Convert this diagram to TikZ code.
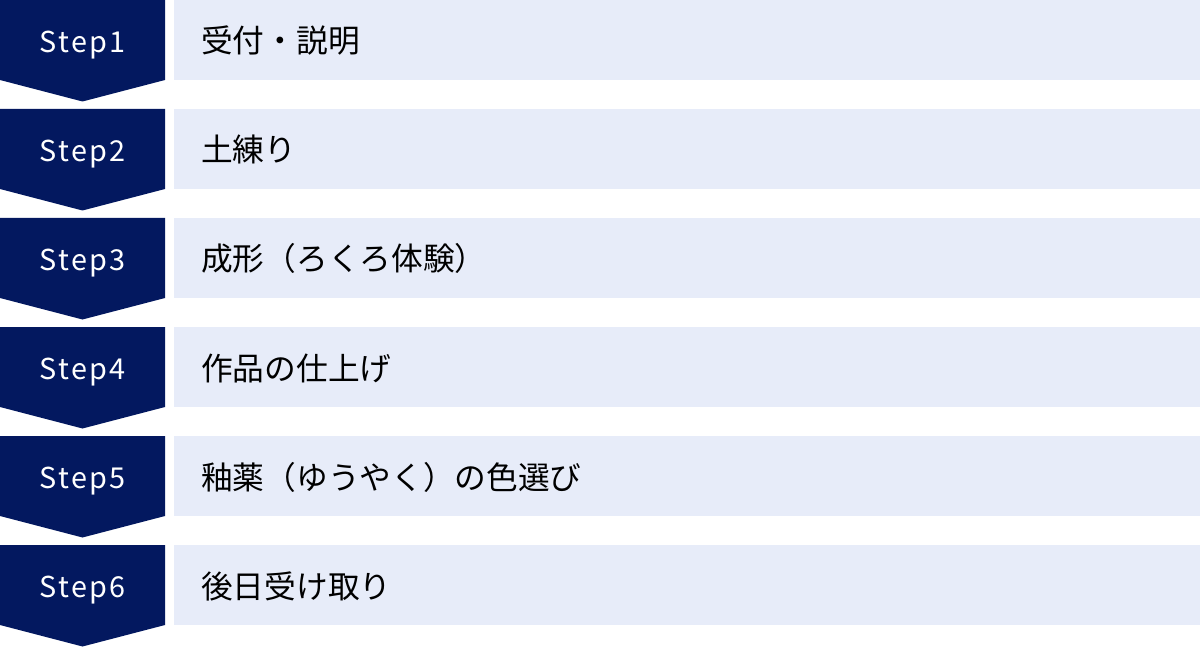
\documentclass[tikz,border=0pt]{standalone}
\usepackage{fontspec}
\setmainfont{Noto Sans CJK JP}
\newfontfamily\stepfont[LetterSpace=8]{Noto Sans CJK JP}
\definecolor{navy}{HTML}{03185F}
\definecolor{pale}{HTML}{E7ECF9}
\tikzset{
  chevron/.style={fill=navy},
  steplabel/.style={text=white,font=\stepfont\fontsize{28.8}{34}\selectfont,inner sep=0pt,anchor=base},
  palebox/.style={fill=pale,draw=none,minimum width=1026pt,minimum height=80pt,inner sep=0pt,anchor=north west},
  itemlabel/.style={text=black,font=\fontsize{31.7}{38}\selectfont,inner sep=0pt,anchor=base west}
}
\begin{document}
\begin{tikzpicture}[x=1pt,y=-1pt]
\useasboundingbox (0,0) rectangle (1200,647);
\foreach \i/\txt in {1/受付・説明,2/土練り,3/成形（ろくろ体験）,4/作品の仕上げ,5/釉薬（ゆうやく）の色選び,6/後日受け取り}{
  \pgfmathsetmacro{\t}{109*(\i-1)}
  \fill[chevron] (0,\t) -- (165,\t) -- (165,\t+80) -- (82.5,\t+101.5) -- (0,\t+80) -- cycle;
  \node[steplabel] (s\i) at (82.5,\t+52.3) {Step\i};
  \node[palebox] (b\i) at (174,\t) {};
  \node[itemlabel] (t\i) at (201,\t+53) {\txt};
}
\end{tikzpicture}
\end{document}
